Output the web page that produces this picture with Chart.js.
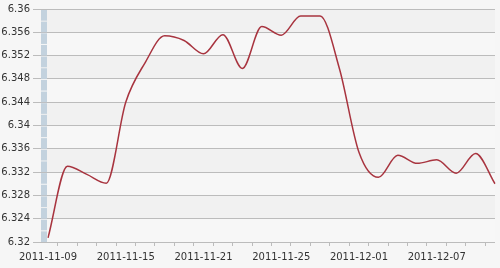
<!DOCTYPE html>
<html>
<head>
<meta charset="utf-8">
<script src="https://cdn.jsdelivr.net/npm/chart.js@4"></script>
<style>
  html, body { margin: 0; padding: 0; background: #f6f6f6; }
  #wrap { width: 500px; height: 268px; position: relative; }
</style>
</head>
<body>
<div id="wrap"><canvas id="rateChart"></canvas></div>
<script>
// trading days
const dates = [
  "2011-11-09", "2011-11-10", "2011-11-11", "2011-11-14",
  "2011-11-15", "2011-11-16", "2011-11-17", "2011-11-18",
  "2011-11-21", "2011-11-22", "2011-11-23", "2011-11-24",
  "2011-11-25", "2011-11-28", "2011-11-29", "2011-11-30",
  "2011-12-01", "2011-12-02", "2011-12-05", "2011-12-06",
  "2011-12-07", "2011-12-08", "2011-12-09", "2011-12-12"
];
const rates = [
  6.3207, 6.3330, 6.3316, 6.3301, 6.3440, 6.3508, 6.3554, 6.3546,
  6.3523, 6.3556, 6.3498, 6.3570, 6.3555, 6.3588, 6.3588, 6.3497,
  6.3354, 6.3311, 6.3349, 6.3335, 6.3341, 6.3318, 6.3352, 6.3300
];
const yTicks = [6.32, 6.324, 6.328, 6.332, 6.336, 6.34, 6.344, 6.348, 6.352, 6.356, 6.36];
const labelEvery = 4;

// plot background bands + the blue axis wall on the left
const decor = {
  id: "decor",
  beforeDraw(chart) {
    const { ctx, chartArea: a, scales: { y } } = chart;
    ctx.save();
    for (let i = 0; i < yTicks.length - 1; i++) {
      const y0 = y.getPixelForValue(yTicks[i + 1]);
      const y1 = y.getPixelForValue(yTicks[i]);
      ctx.fillStyle = i % 2 ? "#f1f1f1" : "#f7f7f7";
      ctx.fillRect(a.left - 7, y0, a.right - a.left + 7, y1 - y0);
    }
    ctx.restore();
  },
  beforeDatasetsDraw(chart) {
    const { ctx, chartArea: a, scales: { y } } = chart;
    ctx.save();
    for (let i = 0; i < yTicks.length - 1; i++) {
      const y0 = y.getPixelForValue(yTicks[i + 1]);
      const y1 = y.getPixelForValue(yTicks[i]);
      const mid = (y0 + y1) / 2;
      ctx.fillStyle = "#c3d2de";
      ctx.fillRect(a.left - 7, y0 + 1, 6, mid - y0 - 1);
      ctx.fillRect(a.left - 7, mid + 1, 6, y1 - mid - 1);
    }
    ctx.restore();
  }
};

new Chart(document.getElementById("rateChart"), {
  type: "line",
  data: {
    labels: dates,
    datasets: [{
      data: rates,
      borderColor: "#a8343f",
      borderWidth: 1.5,
      pointRadius: 0,
      fill: false,
      cubicInterpolationMode: "monotone"
    }]
  },
  options: {
    responsive: true,
    maintainAspectRatio: false,
    animation: false,
    layout: { padding: { top: 8, right: 3, bottom: 0, left: 0 } },
    plugins: { legend: { display: false }, tooltip: { enabled: false } },
    scales: {
      x: {
        offset: false,
        grid: {
          offset: true,
          drawOnChartArea: false,
          drawTicks: true,
          tickLength: 4,
          color: "#bcbcbc"
        },
        border: { display: false },
        ticks: {
          autoSkip: false,
          maxRotation: 0,
          padding: 5,
          color: "#333",
          font: { family: "DejaVu Sans", size: 10 },
          callback: (v, i) => (i % labelEvery === 0 ? dates[i] : "")
        }
      },
      y: {
        min: 6.32,
        max: 6.36,
        afterFit(scale) { scale.width = 48; },
        afterBuildTicks(scale) { scale.ticks = yTicks.map(v => ({ value: v })); },
        grid: { color: "#bcbcbc", lineWidth: 1, tickLength: 15 },
        border: { display: false },
        ticks: {
          padding: 3,
          color: "#333",
          font: { family: "DejaVu Sans", size: 10 },
          callback: v => String(Number(v.toFixed(3)))
        }
      }
    }
  },
  plugins: [decor]
});
</script>
</body>
</html>
